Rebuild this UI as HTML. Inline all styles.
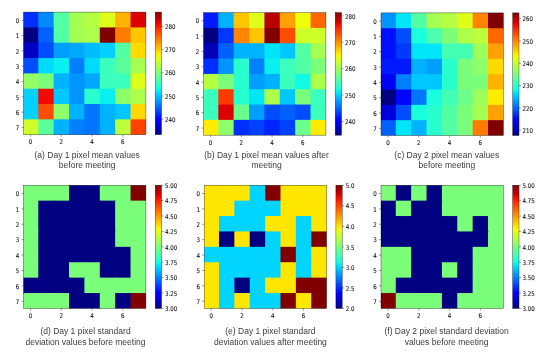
<!DOCTYPE html>
<html><head><meta charset="utf-8"><title>Figure</title>
<style>
html,body{margin:0;padding:0;background:#fff}
svg{display:block}
.t{font-family:"DejaVu Sans","Liberation Sans",sans-serif;font-size:5.5px;fill:#1a1a1a}
.c{font-family:"Liberation Sans",sans-serif;font-size:8.5px;fill:#3c3c3c}
.t{stroke:#1a1a1a;stroke-width:0.1px}
.tk{stroke:#000;stroke-width:0.5;stroke-opacity:0.8}
.bd{fill:none;stroke:#000;stroke-opacity:0.7;stroke-width:0.5}
</style></head><body>
<svg width="550" height="356" viewBox="0 0 550 356">
<rect width="550" height="356" fill="#fff"/>
<defs><linearGradient id="jet" x1="0" y1="1" x2="0" y2="0">
<stop offset="0.000" stop-color="#000080"/>
<stop offset="0.025" stop-color="#00009c"/>
<stop offset="0.050" stop-color="#0000b9"/>
<stop offset="0.075" stop-color="#0000d6"/>
<stop offset="0.100" stop-color="#0000f3"/>
<stop offset="0.125" stop-color="#0000ff"/>
<stop offset="0.150" stop-color="#0019ff"/>
<stop offset="0.175" stop-color="#0033ff"/>
<stop offset="0.200" stop-color="#004dff"/>
<stop offset="0.225" stop-color="#0066ff"/>
<stop offset="0.250" stop-color="#0080ff"/>
<stop offset="0.275" stop-color="#0099ff"/>
<stop offset="0.300" stop-color="#00b2ff"/>
<stop offset="0.325" stop-color="#00ccff"/>
<stop offset="0.350" stop-color="#00e5f7"/>
<stop offset="0.375" stop-color="#15ffe2"/>
<stop offset="0.400" stop-color="#29ffce"/>
<stop offset="0.425" stop-color="#3effb9"/>
<stop offset="0.450" stop-color="#52ffa5"/>
<stop offset="0.475" stop-color="#67ff90"/>
<stop offset="0.500" stop-color="#7bff7b"/>
<stop offset="0.525" stop-color="#90ff67"/>
<stop offset="0.550" stop-color="#a5ff52"/>
<stop offset="0.575" stop-color="#b9ff3e"/>
<stop offset="0.600" stop-color="#ceff29"/>
<stop offset="0.625" stop-color="#e2ff15"/>
<stop offset="0.650" stop-color="#f7f600"/>
<stop offset="0.675" stop-color="#ffde00"/>
<stop offset="0.700" stop-color="#ffc600"/>
<stop offset="0.725" stop-color="#ffaf00"/>
<stop offset="0.750" stop-color="#ff9700"/>
<stop offset="0.775" stop-color="#ff8000"/>
<stop offset="0.800" stop-color="#ff6800"/>
<stop offset="0.825" stop-color="#ff5000"/>
<stop offset="0.850" stop-color="#ff3900"/>
<stop offset="0.875" stop-color="#ff2100"/>
<stop offset="0.900" stop-color="#f30900"/>
<stop offset="0.925" stop-color="#d60000"/>
<stop offset="0.950" stop-color="#b90000"/>
<stop offset="0.975" stop-color="#9c0000"/>
<stop offset="1.000" stop-color="#800000"/>
</linearGradient></defs>
<rect x="23.50" y="12.10" width="15.77" height="16.32" fill="#002eff"/>
<rect x="38.27" y="12.10" width="16.38" height="16.32" fill="#008aff"/>
<rect x="53.65" y="12.10" width="16.38" height="16.32" fill="#52ffa5"/>
<rect x="69.03" y="12.10" width="16.38" height="16.32" fill="#a5ff52"/>
<rect x="84.40" y="12.10" width="16.38" height="16.32" fill="#b5ff42"/>
<rect x="99.78" y="12.10" width="16.38" height="16.32" fill="#deff19"/>
<rect x="115.15" y="12.10" width="16.38" height="16.32" fill="#ffb300"/>
<rect x="130.53" y="12.10" width="15.38" height="16.32" fill="#dc0000"/>
<rect x="23.50" y="27.42" width="15.77" height="16.32" fill="#000080"/>
<rect x="38.27" y="27.42" width="16.38" height="16.32" fill="#0061ff"/>
<rect x="53.65" y="27.42" width="16.38" height="16.32" fill="#52ffa5"/>
<rect x="69.03" y="27.42" width="16.38" height="16.32" fill="#a5ff52"/>
<rect x="84.40" y="27.42" width="16.38" height="16.32" fill="#adff4a"/>
<rect x="99.78" y="27.42" width="16.38" height="16.32" fill="#800000"/>
<rect x="115.15" y="27.42" width="16.38" height="16.32" fill="#ff7b00"/>
<rect x="130.53" y="27.42" width="15.38" height="16.32" fill="#ffc600"/>
<rect x="23.50" y="42.75" width="15.77" height="16.32" fill="#0000c5"/>
<rect x="38.27" y="42.75" width="16.38" height="16.32" fill="#004dff"/>
<rect x="53.65" y="42.75" width="16.38" height="16.32" fill="#009eff"/>
<rect x="69.03" y="42.75" width="16.38" height="16.32" fill="#00a8ff"/>
<rect x="84.40" y="42.75" width="16.38" height="16.32" fill="#00bdff"/>
<rect x="99.78" y="42.75" width="16.38" height="16.32" fill="#00d1ff"/>
<rect x="115.15" y="42.75" width="16.38" height="16.32" fill="#52ffa5"/>
<rect x="130.53" y="42.75" width="15.38" height="16.32" fill="#ffd900"/>
<rect x="23.50" y="58.07" width="15.77" height="16.32" fill="#004dff"/>
<rect x="38.27" y="58.07" width="16.38" height="16.32" fill="#00dbff"/>
<rect x="53.65" y="58.07" width="16.38" height="16.32" fill="#08f0ef"/>
<rect x="69.03" y="58.07" width="16.38" height="16.32" fill="#0080ff"/>
<rect x="84.40" y="58.07" width="16.38" height="16.32" fill="#00dbff"/>
<rect x="99.78" y="58.07" width="16.38" height="16.32" fill="#3affbd"/>
<rect x="115.15" y="58.07" width="16.38" height="16.32" fill="#5aff9c"/>
<rect x="130.53" y="58.07" width="15.38" height="16.32" fill="#a5ff52"/>
<rect x="23.50" y="73.40" width="15.77" height="16.32" fill="#94ff63"/>
<rect x="38.27" y="73.40" width="16.38" height="16.32" fill="#7bff7b"/>
<rect x="53.65" y="73.40" width="16.38" height="16.32" fill="#00b2ff"/>
<rect x="69.03" y="73.40" width="16.38" height="16.32" fill="#0094ff"/>
<rect x="84.40" y="73.40" width="16.38" height="16.32" fill="#00a8ff"/>
<rect x="99.78" y="73.40" width="16.38" height="16.32" fill="#3affbd"/>
<rect x="115.15" y="73.40" width="16.38" height="16.32" fill="#3affbd"/>
<rect x="130.53" y="73.40" width="15.38" height="16.32" fill="#deff19"/>
<rect x="23.50" y="88.72" width="15.77" height="16.32" fill="#00d1ff"/>
<rect x="38.27" y="88.72" width="16.38" height="16.32" fill="#f30900"/>
<rect x="53.65" y="88.72" width="16.38" height="16.32" fill="#00c7ff"/>
<rect x="69.03" y="88.72" width="16.38" height="16.32" fill="#0094ff"/>
<rect x="84.40" y="88.72" width="16.38" height="16.32" fill="#29ffce"/>
<rect x="99.78" y="88.72" width="16.38" height="16.32" fill="#08f0ef"/>
<rect x="115.15" y="88.72" width="16.38" height="16.32" fill="#8cff6b"/>
<rect x="130.53" y="88.72" width="15.38" height="16.32" fill="#adff4a"/>
<rect x="23.50" y="104.05" width="15.77" height="16.32" fill="#00d1ff"/>
<rect x="38.27" y="104.05" width="16.38" height="16.32" fill="#ff4c00"/>
<rect x="53.65" y="104.05" width="16.38" height="16.32" fill="#8cff6b"/>
<rect x="69.03" y="104.05" width="16.38" height="16.32" fill="#00b2ff"/>
<rect x="84.40" y="104.05" width="16.38" height="16.32" fill="#0075ff"/>
<rect x="99.78" y="104.05" width="16.38" height="16.32" fill="#00b2ff"/>
<rect x="115.15" y="104.05" width="16.38" height="16.32" fill="#00c7ff"/>
<rect x="130.53" y="104.05" width="15.38" height="16.32" fill="#ffd900"/>
<rect x="23.50" y="119.37" width="15.77" height="15.32" fill="#ceff29"/>
<rect x="38.27" y="119.37" width="16.38" height="15.32" fill="#5aff9c"/>
<rect x="53.65" y="119.37" width="16.38" height="15.32" fill="#00b2ff"/>
<rect x="69.03" y="119.37" width="16.38" height="15.32" fill="#0080ff"/>
<rect x="84.40" y="119.37" width="16.38" height="15.32" fill="#0075ff"/>
<rect x="99.78" y="119.37" width="16.38" height="15.32" fill="#00b2ff"/>
<rect x="115.15" y="119.37" width="16.38" height="15.32" fill="#bdff3a"/>
<rect x="130.53" y="119.37" width="15.38" height="15.32" fill="#ff4200"/>
<rect x="23.50" y="12.10" width="122.40" height="122.60" class="bd"/>
<line x1="21.50" y1="20.26" x2="23.50" y2="20.26" class="tk"/>
<text transform="translate(19.30 22.92) scale(1 1.18)" text-anchor="end" class="t">0</text>
<line x1="21.50" y1="35.59" x2="23.50" y2="35.59" class="tk"/>
<text transform="translate(19.30 38.25) scale(1 1.18)" text-anchor="end" class="t">1</text>
<line x1="21.50" y1="50.91" x2="23.50" y2="50.91" class="tk"/>
<text transform="translate(19.30 53.57) scale(1 1.18)" text-anchor="end" class="t">2</text>
<line x1="21.50" y1="66.24" x2="23.50" y2="66.24" class="tk"/>
<text transform="translate(19.30 68.90) scale(1 1.18)" text-anchor="end" class="t">3</text>
<line x1="21.50" y1="81.56" x2="23.50" y2="81.56" class="tk"/>
<text transform="translate(19.30 84.22) scale(1 1.18)" text-anchor="end" class="t">4</text>
<line x1="21.50" y1="96.89" x2="23.50" y2="96.89" class="tk"/>
<text transform="translate(19.30 99.55) scale(1 1.18)" text-anchor="end" class="t">5</text>
<line x1="21.50" y1="112.21" x2="23.50" y2="112.21" class="tk"/>
<text transform="translate(19.30 114.87) scale(1 1.18)" text-anchor="end" class="t">6</text>
<line x1="21.50" y1="127.54" x2="23.50" y2="127.54" class="tk"/>
<text transform="translate(19.30 130.20) scale(1 1.18)" text-anchor="end" class="t">7</text>
<line x1="30.59" y1="134.70" x2="30.59" y2="136.70" class="tk"/>
<text transform="translate(30.59 144.00) scale(1 1.18)" text-anchor="middle" class="t">0</text>
<line x1="61.34" y1="134.70" x2="61.34" y2="136.70" class="tk"/>
<text transform="translate(61.34 144.00) scale(1 1.18)" text-anchor="middle" class="t">2</text>
<line x1="92.09" y1="134.70" x2="92.09" y2="136.70" class="tk"/>
<text transform="translate(92.09 144.00) scale(1 1.18)" text-anchor="middle" class="t">4</text>
<line x1="122.84" y1="134.70" x2="122.84" y2="136.70" class="tk"/>
<text transform="translate(122.84 144.00) scale(1 1.18)" text-anchor="middle" class="t">6</text>
<rect x="155.20" y="12.10" width="6.30" height="122.60" fill="url(#jet)"/>
<rect x="155.20" y="12.10" width="6.30" height="122.60" class="bd"/>
<line x1="161.50" y1="119.17" x2="163.50" y2="119.17" class="tk"/>
<text transform="translate(165.10 121.83) scale(1 1.18)" class="t">240</text>
<line x1="161.50" y1="96.00" x2="163.50" y2="96.00" class="tk"/>
<text transform="translate(165.10 98.66) scale(1 1.18)" class="t">250</text>
<line x1="161.50" y1="72.82" x2="163.50" y2="72.82" class="tk"/>
<text transform="translate(165.10 75.48) scale(1 1.18)" class="t">260</text>
<line x1="161.50" y1="49.64" x2="163.50" y2="49.64" class="tk"/>
<text transform="translate(165.10 52.30) scale(1 1.18)" class="t">270</text>
<line x1="161.50" y1="26.47" x2="163.50" y2="26.47" class="tk"/>
<text transform="translate(165.10 29.13) scale(1 1.18)" class="t">280</text>
<text x="87.20" y="157.50" text-anchor="middle" class="c">(a) Day 1 pixel mean values</text>
<text x="87.20" y="168.00" text-anchor="middle" class="c">before meeting</text>
<rect x="203.50" y="12.60" width="15.78" height="16.32" fill="#0019ff"/>
<rect x="218.28" y="12.60" width="16.38" height="16.32" fill="#00b2ff"/>
<rect x="233.65" y="12.60" width="16.38" height="16.32" fill="#ffc600"/>
<rect x="249.03" y="12.60" width="16.37" height="16.32" fill="#deff19"/>
<rect x="264.40" y="12.60" width="16.38" height="16.32" fill="#b90000"/>
<rect x="279.77" y="12.60" width="16.38" height="16.32" fill="#ffa100"/>
<rect x="295.15" y="12.60" width="16.38" height="16.32" fill="#efff08"/>
<rect x="310.52" y="12.60" width="15.38" height="16.32" fill="#ff6800"/>
<rect x="203.50" y="27.92" width="15.78" height="16.32" fill="#000080"/>
<rect x="218.28" y="27.92" width="16.38" height="16.32" fill="#0038ff"/>
<rect x="233.65" y="27.92" width="16.38" height="16.32" fill="#ff8400"/>
<rect x="249.03" y="27.92" width="16.37" height="16.32" fill="#ffc600"/>
<rect x="264.40" y="27.92" width="16.38" height="16.32" fill="#800000"/>
<rect x="279.77" y="27.92" width="16.38" height="16.32" fill="#ff4c00"/>
<rect x="295.15" y="27.92" width="16.38" height="16.32" fill="#ceff29"/>
<rect x="310.52" y="27.92" width="15.38" height="16.32" fill="#ceff29"/>
<rect x="203.50" y="43.25" width="15.78" height="16.32" fill="#0000b9"/>
<rect x="218.28" y="43.25" width="16.38" height="16.32" fill="#0061ff"/>
<rect x="233.65" y="43.25" width="16.38" height="16.32" fill="#00b2ff"/>
<rect x="249.03" y="43.25" width="16.37" height="16.32" fill="#00b2ff"/>
<rect x="264.40" y="43.25" width="16.38" height="16.32" fill="#00e5f7"/>
<rect x="279.77" y="43.25" width="16.38" height="16.32" fill="#00c7ff"/>
<rect x="295.15" y="43.25" width="16.38" height="16.32" fill="#52ffa5"/>
<rect x="310.52" y="43.25" width="15.38" height="16.32" fill="#a5ff52"/>
<rect x="203.50" y="58.57" width="15.78" height="16.32" fill="#002eff"/>
<rect x="218.28" y="58.57" width="16.38" height="16.32" fill="#0094ff"/>
<rect x="233.65" y="58.57" width="16.38" height="16.32" fill="#29ffce"/>
<rect x="249.03" y="58.57" width="16.37" height="16.32" fill="#0080ff"/>
<rect x="264.40" y="58.57" width="16.38" height="16.32" fill="#08f0ef"/>
<rect x="279.77" y="58.57" width="16.38" height="16.32" fill="#3affbd"/>
<rect x="295.15" y="58.57" width="16.38" height="16.32" fill="#52ffa5"/>
<rect x="310.52" y="58.57" width="15.38" height="16.32" fill="#7bff7b"/>
<rect x="203.50" y="73.90" width="15.78" height="16.32" fill="#b5ff42"/>
<rect x="218.28" y="73.90" width="16.38" height="16.32" fill="#7bff7b"/>
<rect x="233.65" y="73.90" width="16.38" height="16.32" fill="#29ffce"/>
<rect x="249.03" y="73.90" width="16.37" height="16.32" fill="#009eff"/>
<rect x="264.40" y="73.90" width="16.38" height="16.32" fill="#00b2ff"/>
<rect x="279.77" y="73.90" width="16.38" height="16.32" fill="#3affbd"/>
<rect x="295.15" y="73.90" width="16.38" height="16.32" fill="#10fae6"/>
<rect x="310.52" y="73.90" width="15.38" height="16.32" fill="#adff4a"/>
<rect x="203.50" y="89.22" width="15.78" height="16.32" fill="#3affbd"/>
<rect x="218.28" y="89.22" width="16.38" height="16.32" fill="#ff3900"/>
<rect x="233.65" y="89.22" width="16.38" height="16.32" fill="#29ffce"/>
<rect x="249.03" y="89.22" width="16.37" height="16.32" fill="#00e5f7"/>
<rect x="264.40" y="89.22" width="16.38" height="16.32" fill="#adff4a"/>
<rect x="279.77" y="89.22" width="16.38" height="16.32" fill="#00c7ff"/>
<rect x="295.15" y="89.22" width="16.38" height="16.32" fill="#7bff7b"/>
<rect x="310.52" y="89.22" width="15.38" height="16.32" fill="#3affbd"/>
<rect x="203.50" y="104.55" width="15.78" height="16.32" fill="#3affbd"/>
<rect x="218.28" y="104.55" width="16.38" height="16.32" fill="#dc0000"/>
<rect x="233.65" y="104.55" width="16.38" height="16.32" fill="#6bff8c"/>
<rect x="249.03" y="104.55" width="16.37" height="16.32" fill="#009eff"/>
<rect x="264.40" y="104.55" width="16.38" height="16.32" fill="#004dff"/>
<rect x="279.77" y="104.55" width="16.38" height="16.32" fill="#0061ff"/>
<rect x="295.15" y="104.55" width="16.38" height="16.32" fill="#004dff"/>
<rect x="310.52" y="104.55" width="15.38" height="16.32" fill="#3affbd"/>
<rect x="203.50" y="119.87" width="15.78" height="15.32" fill="#ffec00"/>
<rect x="218.28" y="119.87" width="16.38" height="15.32" fill="#8cff6b"/>
<rect x="233.65" y="119.87" width="16.38" height="15.32" fill="#002eff"/>
<rect x="249.03" y="119.87" width="16.37" height="15.32" fill="#0042ff"/>
<rect x="264.40" y="119.87" width="16.38" height="15.32" fill="#0024ff"/>
<rect x="279.77" y="119.87" width="16.38" height="15.32" fill="#0042ff"/>
<rect x="295.15" y="119.87" width="16.38" height="15.32" fill="#6bff8c"/>
<rect x="310.52" y="119.87" width="15.38" height="15.32" fill="#ffec00"/>
<rect x="203.50" y="12.60" width="122.40" height="122.60" class="bd"/>
<line x1="201.50" y1="20.76" x2="203.50" y2="20.76" class="tk"/>
<text transform="translate(199.30 23.42) scale(1 1.18)" text-anchor="end" class="t">0</text>
<line x1="201.50" y1="36.09" x2="203.50" y2="36.09" class="tk"/>
<text transform="translate(199.30 38.75) scale(1 1.18)" text-anchor="end" class="t">1</text>
<line x1="201.50" y1="51.41" x2="203.50" y2="51.41" class="tk"/>
<text transform="translate(199.30 54.07) scale(1 1.18)" text-anchor="end" class="t">2</text>
<line x1="201.50" y1="66.74" x2="203.50" y2="66.74" class="tk"/>
<text transform="translate(199.30 69.40) scale(1 1.18)" text-anchor="end" class="t">3</text>
<line x1="201.50" y1="82.06" x2="203.50" y2="82.06" class="tk"/>
<text transform="translate(199.30 84.72) scale(1 1.18)" text-anchor="end" class="t">4</text>
<line x1="201.50" y1="97.39" x2="203.50" y2="97.39" class="tk"/>
<text transform="translate(199.30 100.05) scale(1 1.18)" text-anchor="end" class="t">5</text>
<line x1="201.50" y1="112.71" x2="203.50" y2="112.71" class="tk"/>
<text transform="translate(199.30 115.37) scale(1 1.18)" text-anchor="end" class="t">6</text>
<line x1="201.50" y1="128.04" x2="203.50" y2="128.04" class="tk"/>
<text transform="translate(199.30 130.70) scale(1 1.18)" text-anchor="end" class="t">7</text>
<line x1="210.59" y1="135.20" x2="210.59" y2="137.20" class="tk"/>
<text transform="translate(210.59 144.50) scale(1 1.18)" text-anchor="middle" class="t">0</text>
<line x1="241.34" y1="135.20" x2="241.34" y2="137.20" class="tk"/>
<text transform="translate(241.34 144.50) scale(1 1.18)" text-anchor="middle" class="t">2</text>
<line x1="272.09" y1="135.20" x2="272.09" y2="137.20" class="tk"/>
<text transform="translate(272.09 144.50) scale(1 1.18)" text-anchor="middle" class="t">4</text>
<line x1="302.84" y1="135.20" x2="302.84" y2="137.20" class="tk"/>
<text transform="translate(302.84 144.50) scale(1 1.18)" text-anchor="middle" class="t">6</text>
<rect x="335.20" y="12.60" width="6.30" height="122.60" fill="url(#jet)"/>
<rect x="335.20" y="12.60" width="6.30" height="122.60" class="bd"/>
<line x1="341.50" y1="121.36" x2="343.50" y2="121.36" class="tk"/>
<text transform="translate(345.10 124.02) scale(1 1.18)" class="t">240</text>
<line x1="341.50" y1="94.99" x2="343.50" y2="94.99" class="tk"/>
<text transform="translate(345.10 97.65) scale(1 1.18)" class="t">250</text>
<line x1="341.50" y1="68.63" x2="343.50" y2="68.63" class="tk"/>
<text transform="translate(345.10 71.29) scale(1 1.18)" class="t">260</text>
<line x1="341.50" y1="42.26" x2="343.50" y2="42.26" class="tk"/>
<text transform="translate(345.10 44.92) scale(1 1.18)" class="t">270</text>
<line x1="341.50" y1="15.90" x2="343.50" y2="15.90" class="tk"/>
<text transform="translate(345.10 18.56) scale(1 1.18)" class="t">280</text>
<text x="266.50" y="157.50" text-anchor="middle" class="c">(b) Day 1 pixel mean values after</text>
<text x="266.50" y="168.00" text-anchor="middle" class="c">meeting</text>
<rect x="381.00" y="12.90" width="15.77" height="16.32" fill="#0094ff"/>
<rect x="395.77" y="12.90" width="16.38" height="16.32" fill="#00e5f7"/>
<rect x="411.15" y="12.90" width="16.38" height="16.32" fill="#52ffa5"/>
<rect x="426.52" y="12.90" width="16.38" height="16.32" fill="#a5ff52"/>
<rect x="441.90" y="12.90" width="16.38" height="16.32" fill="#b5ff42"/>
<rect x="457.27" y="12.90" width="16.38" height="16.32" fill="#deff19"/>
<rect x="472.65" y="12.90" width="16.38" height="16.32" fill="#ff8400"/>
<rect x="488.02" y="12.90" width="15.38" height="16.32" fill="#800000"/>
<rect x="381.00" y="28.23" width="15.77" height="16.32" fill="#000fff"/>
<rect x="395.77" y="28.23" width="16.38" height="16.32" fill="#004dff"/>
<rect x="411.15" y="28.23" width="16.38" height="16.32" fill="#19ffde"/>
<rect x="426.52" y="28.23" width="16.38" height="16.32" fill="#4affad"/>
<rect x="441.90" y="28.23" width="16.38" height="16.32" fill="#7bff7b"/>
<rect x="457.27" y="28.23" width="16.38" height="16.32" fill="#adff4a"/>
<rect x="472.65" y="28.23" width="16.38" height="16.32" fill="#bdff3a"/>
<rect x="488.02" y="28.23" width="15.38" height="16.32" fill="#ff6800"/>
<rect x="381.00" y="43.55" width="15.77" height="16.32" fill="#000fff"/>
<rect x="395.77" y="43.55" width="16.38" height="16.32" fill="#0038ff"/>
<rect x="411.15" y="43.55" width="16.38" height="16.32" fill="#00e5f7"/>
<rect x="426.52" y="43.55" width="16.38" height="16.32" fill="#00e5f7"/>
<rect x="441.90" y="43.55" width="16.38" height="16.32" fill="#42ffb5"/>
<rect x="457.27" y="43.55" width="16.38" height="16.32" fill="#42ffb5"/>
<rect x="472.65" y="43.55" width="16.38" height="16.32" fill="#9cff5a"/>
<rect x="488.02" y="43.55" width="15.38" height="16.32" fill="#ffa100"/>
<rect x="381.00" y="58.87" width="15.77" height="16.32" fill="#0019ff"/>
<rect x="395.77" y="58.87" width="16.38" height="16.32" fill="#0019ff"/>
<rect x="411.15" y="58.87" width="16.38" height="16.32" fill="#00b2ff"/>
<rect x="426.52" y="58.87" width="16.38" height="16.32" fill="#009eff"/>
<rect x="441.90" y="58.87" width="16.38" height="16.32" fill="#29ffce"/>
<rect x="457.27" y="58.87" width="16.38" height="16.32" fill="#7bff7b"/>
<rect x="472.65" y="58.87" width="16.38" height="16.32" fill="#8cff6b"/>
<rect x="488.02" y="58.87" width="15.38" height="16.32" fill="#ffd900"/>
<rect x="381.00" y="74.20" width="15.77" height="16.32" fill="#0000f3"/>
<rect x="395.77" y="74.20" width="16.38" height="16.32" fill="#0080ff"/>
<rect x="411.15" y="74.20" width="16.38" height="16.32" fill="#00c7ff"/>
<rect x="426.52" y="74.20" width="16.38" height="16.32" fill="#00c7ff"/>
<rect x="441.90" y="74.20" width="16.38" height="16.32" fill="#29ffce"/>
<rect x="457.27" y="74.20" width="16.38" height="16.32" fill="#7bff7b"/>
<rect x="472.65" y="74.20" width="16.38" height="16.32" fill="#7bff7b"/>
<rect x="488.02" y="74.20" width="15.38" height="16.32" fill="#ffb300"/>
<rect x="381.00" y="89.53" width="15.77" height="16.32" fill="#000080"/>
<rect x="395.77" y="89.53" width="16.38" height="16.32" fill="#0005ff"/>
<rect x="411.15" y="89.53" width="16.38" height="16.32" fill="#0075ff"/>
<rect x="426.52" y="89.53" width="16.38" height="16.32" fill="#19ffde"/>
<rect x="441.90" y="89.53" width="16.38" height="16.32" fill="#42ffb5"/>
<rect x="457.27" y="89.53" width="16.38" height="16.32" fill="#6bff8c"/>
<rect x="472.65" y="89.53" width="16.38" height="16.32" fill="#9cff5a"/>
<rect x="488.02" y="89.53" width="15.38" height="16.32" fill="#ffec00"/>
<rect x="381.00" y="104.85" width="15.77" height="16.32" fill="#0000dc"/>
<rect x="395.77" y="104.85" width="16.38" height="16.32" fill="#004dff"/>
<rect x="411.15" y="104.85" width="16.38" height="16.32" fill="#19ffde"/>
<rect x="426.52" y="104.85" width="16.38" height="16.32" fill="#29ffce"/>
<rect x="441.90" y="104.85" width="16.38" height="16.32" fill="#52ffa5"/>
<rect x="457.27" y="104.85" width="16.38" height="16.32" fill="#7bff7b"/>
<rect x="472.65" y="104.85" width="16.38" height="16.32" fill="#a5ff52"/>
<rect x="488.02" y="104.85" width="15.38" height="16.32" fill="#ffa100"/>
<rect x="381.00" y="120.17" width="15.77" height="15.32" fill="#0061ff"/>
<rect x="395.77" y="120.17" width="16.38" height="15.32" fill="#00e5f7"/>
<rect x="411.15" y="120.17" width="16.38" height="15.32" fill="#00b2ff"/>
<rect x="426.52" y="120.17" width="16.38" height="15.32" fill="#29ffce"/>
<rect x="441.90" y="120.17" width="16.38" height="15.32" fill="#52ffa5"/>
<rect x="457.27" y="120.17" width="16.38" height="15.32" fill="#7bff7b"/>
<rect x="472.65" y="120.17" width="16.38" height="15.32" fill="#ff7b00"/>
<rect x="488.02" y="120.17" width="15.38" height="15.32" fill="#800000"/>
<rect x="381.00" y="12.90" width="122.40" height="122.60" class="bd"/>
<line x1="379.00" y1="21.06" x2="381.00" y2="21.06" class="tk"/>
<text transform="translate(376.80 23.72) scale(1 1.18)" text-anchor="end" class="t">0</text>
<line x1="379.00" y1="36.39" x2="381.00" y2="36.39" class="tk"/>
<text transform="translate(376.80 39.05) scale(1 1.18)" text-anchor="end" class="t">1</text>
<line x1="379.00" y1="51.71" x2="381.00" y2="51.71" class="tk"/>
<text transform="translate(376.80 54.37) scale(1 1.18)" text-anchor="end" class="t">2</text>
<line x1="379.00" y1="67.04" x2="381.00" y2="67.04" class="tk"/>
<text transform="translate(376.80 69.70) scale(1 1.18)" text-anchor="end" class="t">3</text>
<line x1="379.00" y1="82.36" x2="381.00" y2="82.36" class="tk"/>
<text transform="translate(376.80 85.02) scale(1 1.18)" text-anchor="end" class="t">4</text>
<line x1="379.00" y1="97.69" x2="381.00" y2="97.69" class="tk"/>
<text transform="translate(376.80 100.35) scale(1 1.18)" text-anchor="end" class="t">5</text>
<line x1="379.00" y1="113.01" x2="381.00" y2="113.01" class="tk"/>
<text transform="translate(376.80 115.67) scale(1 1.18)" text-anchor="end" class="t">6</text>
<line x1="379.00" y1="128.34" x2="381.00" y2="128.34" class="tk"/>
<text transform="translate(376.80 131.00) scale(1 1.18)" text-anchor="end" class="t">7</text>
<line x1="388.09" y1="135.50" x2="388.09" y2="137.50" class="tk"/>
<text transform="translate(388.09 144.80) scale(1 1.18)" text-anchor="middle" class="t">0</text>
<line x1="418.84" y1="135.50" x2="418.84" y2="137.50" class="tk"/>
<text transform="translate(418.84 144.80) scale(1 1.18)" text-anchor="middle" class="t">2</text>
<line x1="449.59" y1="135.50" x2="449.59" y2="137.50" class="tk"/>
<text transform="translate(449.59 144.80) scale(1 1.18)" text-anchor="middle" class="t">4</text>
<line x1="480.34" y1="135.50" x2="480.34" y2="137.50" class="tk"/>
<text transform="translate(480.34 144.80) scale(1 1.18)" text-anchor="middle" class="t">6</text>
<rect x="512.70" y="12.90" width="6.30" height="122.60" fill="url(#jet)"/>
<rect x="512.70" y="12.90" width="6.30" height="122.60" class="bd"/>
<line x1="519.00" y1="130.15" x2="521.00" y2="130.15" class="tk"/>
<text transform="translate(522.60 132.81) scale(1 1.18)" class="t">210</text>
<line x1="519.00" y1="107.86" x2="521.00" y2="107.86" class="tk"/>
<text transform="translate(522.60 110.52) scale(1 1.18)" class="t">220</text>
<line x1="519.00" y1="85.57" x2="521.00" y2="85.57" class="tk"/>
<text transform="translate(522.60 88.23) scale(1 1.18)" class="t">230</text>
<line x1="519.00" y1="63.28" x2="521.00" y2="63.28" class="tk"/>
<text transform="translate(522.60 65.94) scale(1 1.18)" class="t">240</text>
<line x1="519.00" y1="40.99" x2="521.00" y2="40.99" class="tk"/>
<text transform="translate(522.60 43.65) scale(1 1.18)" class="t">250</text>
<line x1="519.00" y1="18.70" x2="521.00" y2="18.70" class="tk"/>
<text transform="translate(522.60 21.36) scale(1 1.18)" class="t">260</text>
<text x="446.80" y="157.80" text-anchor="middle" class="c">(c) Day 2 pixel mean values</text>
<text x="446.80" y="168.30" text-anchor="middle" class="c">before meeting</text>
<rect x="23.50" y="185.25" width="15.77" height="16.40" fill="#7bff7b"/>
<rect x="38.27" y="185.25" width="16.38" height="16.40" fill="#7bff7b"/>
<rect x="53.65" y="185.25" width="16.38" height="16.40" fill="#7bff7b"/>
<rect x="69.03" y="185.25" width="16.38" height="16.40" fill="#000080"/>
<rect x="84.40" y="185.25" width="16.38" height="16.40" fill="#000080"/>
<rect x="99.78" y="185.25" width="16.38" height="16.40" fill="#7bff7b"/>
<rect x="115.15" y="185.25" width="16.38" height="16.40" fill="#7bff7b"/>
<rect x="130.53" y="185.25" width="15.38" height="16.40" fill="#800000"/>
<rect x="23.50" y="200.65" width="15.77" height="16.40" fill="#7bff7b"/>
<rect x="38.27" y="200.65" width="16.38" height="16.40" fill="#000080"/>
<rect x="53.65" y="200.65" width="16.38" height="16.40" fill="#000080"/>
<rect x="69.03" y="200.65" width="16.38" height="16.40" fill="#000080"/>
<rect x="84.40" y="200.65" width="16.38" height="16.40" fill="#000080"/>
<rect x="99.78" y="200.65" width="16.38" height="16.40" fill="#000080"/>
<rect x="115.15" y="200.65" width="16.38" height="16.40" fill="#7bff7b"/>
<rect x="130.53" y="200.65" width="15.38" height="16.40" fill="#7bff7b"/>
<rect x="23.50" y="216.05" width="15.77" height="16.40" fill="#7bff7b"/>
<rect x="38.27" y="216.05" width="16.38" height="16.40" fill="#000080"/>
<rect x="53.65" y="216.05" width="16.38" height="16.40" fill="#000080"/>
<rect x="69.03" y="216.05" width="16.38" height="16.40" fill="#000080"/>
<rect x="84.40" y="216.05" width="16.38" height="16.40" fill="#000080"/>
<rect x="99.78" y="216.05" width="16.38" height="16.40" fill="#000080"/>
<rect x="115.15" y="216.05" width="16.38" height="16.40" fill="#7bff7b"/>
<rect x="130.53" y="216.05" width="15.38" height="16.40" fill="#7bff7b"/>
<rect x="23.50" y="231.45" width="15.77" height="16.40" fill="#7bff7b"/>
<rect x="38.27" y="231.45" width="16.38" height="16.40" fill="#000080"/>
<rect x="53.65" y="231.45" width="16.38" height="16.40" fill="#000080"/>
<rect x="69.03" y="231.45" width="16.38" height="16.40" fill="#000080"/>
<rect x="84.40" y="231.45" width="16.38" height="16.40" fill="#000080"/>
<rect x="99.78" y="231.45" width="16.38" height="16.40" fill="#000080"/>
<rect x="115.15" y="231.45" width="16.38" height="16.40" fill="#7bff7b"/>
<rect x="130.53" y="231.45" width="15.38" height="16.40" fill="#7bff7b"/>
<rect x="23.50" y="246.85" width="15.77" height="16.40" fill="#7bff7b"/>
<rect x="38.27" y="246.85" width="16.38" height="16.40" fill="#000080"/>
<rect x="53.65" y="246.85" width="16.38" height="16.40" fill="#000080"/>
<rect x="69.03" y="246.85" width="16.38" height="16.40" fill="#000080"/>
<rect x="84.40" y="246.85" width="16.38" height="16.40" fill="#000080"/>
<rect x="99.78" y="246.85" width="16.38" height="16.40" fill="#000080"/>
<rect x="115.15" y="246.85" width="16.38" height="16.40" fill="#000080"/>
<rect x="130.53" y="246.85" width="15.38" height="16.40" fill="#7bff7b"/>
<rect x="23.50" y="262.25" width="15.77" height="16.40" fill="#7bff7b"/>
<rect x="38.27" y="262.25" width="16.38" height="16.40" fill="#000080"/>
<rect x="53.65" y="262.25" width="16.38" height="16.40" fill="#000080"/>
<rect x="69.03" y="262.25" width="16.38" height="16.40" fill="#7bff7b"/>
<rect x="84.40" y="262.25" width="16.38" height="16.40" fill="#7bff7b"/>
<rect x="99.78" y="262.25" width="16.38" height="16.40" fill="#000080"/>
<rect x="115.15" y="262.25" width="16.38" height="16.40" fill="#000080"/>
<rect x="130.53" y="262.25" width="15.38" height="16.40" fill="#7bff7b"/>
<rect x="23.50" y="277.65" width="15.77" height="16.40" fill="#000080"/>
<rect x="38.27" y="277.65" width="16.38" height="16.40" fill="#000080"/>
<rect x="53.65" y="277.65" width="16.38" height="16.40" fill="#000080"/>
<rect x="69.03" y="277.65" width="16.38" height="16.40" fill="#000080"/>
<rect x="84.40" y="277.65" width="16.38" height="16.40" fill="#7bff7b"/>
<rect x="99.78" y="277.65" width="16.38" height="16.40" fill="#7bff7b"/>
<rect x="115.15" y="277.65" width="16.38" height="16.40" fill="#7bff7b"/>
<rect x="130.53" y="277.65" width="15.38" height="16.40" fill="#7bff7b"/>
<rect x="23.50" y="293.05" width="15.77" height="15.40" fill="#7bff7b"/>
<rect x="38.27" y="293.05" width="16.38" height="15.40" fill="#7bff7b"/>
<rect x="53.65" y="293.05" width="16.38" height="15.40" fill="#7bff7b"/>
<rect x="69.03" y="293.05" width="16.38" height="15.40" fill="#000080"/>
<rect x="84.40" y="293.05" width="16.38" height="15.40" fill="#000080"/>
<rect x="99.78" y="293.05" width="16.38" height="15.40" fill="#7bff7b"/>
<rect x="115.15" y="293.05" width="16.38" height="15.40" fill="#000080"/>
<rect x="130.53" y="293.05" width="15.38" height="15.40" fill="#800000"/>
<rect x="23.50" y="185.25" width="122.40" height="123.20" class="bd"/>
<line x1="21.50" y1="193.45" x2="23.50" y2="193.45" class="tk"/>
<text transform="translate(19.30 196.11) scale(1 1.18)" text-anchor="end" class="t">0</text>
<line x1="21.50" y1="208.85" x2="23.50" y2="208.85" class="tk"/>
<text transform="translate(19.30 211.51) scale(1 1.18)" text-anchor="end" class="t">1</text>
<line x1="21.50" y1="224.25" x2="23.50" y2="224.25" class="tk"/>
<text transform="translate(19.30 226.91) scale(1 1.18)" text-anchor="end" class="t">2</text>
<line x1="21.50" y1="239.65" x2="23.50" y2="239.65" class="tk"/>
<text transform="translate(19.30 242.31) scale(1 1.18)" text-anchor="end" class="t">3</text>
<line x1="21.50" y1="255.05" x2="23.50" y2="255.05" class="tk"/>
<text transform="translate(19.30 257.71) scale(1 1.18)" text-anchor="end" class="t">4</text>
<line x1="21.50" y1="270.45" x2="23.50" y2="270.45" class="tk"/>
<text transform="translate(19.30 273.11) scale(1 1.18)" text-anchor="end" class="t">5</text>
<line x1="21.50" y1="285.85" x2="23.50" y2="285.85" class="tk"/>
<text transform="translate(19.30 288.51) scale(1 1.18)" text-anchor="end" class="t">6</text>
<line x1="21.50" y1="301.25" x2="23.50" y2="301.25" class="tk"/>
<text transform="translate(19.30 303.91) scale(1 1.18)" text-anchor="end" class="t">7</text>
<line x1="30.59" y1="308.45" x2="30.59" y2="310.45" class="tk"/>
<text transform="translate(30.59 317.75) scale(1 1.18)" text-anchor="middle" class="t">0</text>
<line x1="61.34" y1="308.45" x2="61.34" y2="310.45" class="tk"/>
<text transform="translate(61.34 317.75) scale(1 1.18)" text-anchor="middle" class="t">2</text>
<line x1="92.09" y1="308.45" x2="92.09" y2="310.45" class="tk"/>
<text transform="translate(92.09 317.75) scale(1 1.18)" text-anchor="middle" class="t">4</text>
<line x1="122.84" y1="308.45" x2="122.84" y2="310.45" class="tk"/>
<text transform="translate(122.84 317.75) scale(1 1.18)" text-anchor="middle" class="t">6</text>
<rect x="155.20" y="185.25" width="6.30" height="123.20" fill="url(#jet)"/>
<rect x="155.20" y="185.25" width="6.30" height="123.20" class="bd"/>
<line x1="161.50" y1="308.45" x2="163.50" y2="308.45" class="tk"/>
<text transform="translate(165.10 311.11) scale(1 1.18)" class="t">3.00</text>
<line x1="161.50" y1="293.05" x2="163.50" y2="293.05" class="tk"/>
<text transform="translate(165.10 295.71) scale(1 1.18)" class="t">3.25</text>
<line x1="161.50" y1="277.65" x2="163.50" y2="277.65" class="tk"/>
<text transform="translate(165.10 280.31) scale(1 1.18)" class="t">3.50</text>
<line x1="161.50" y1="262.25" x2="163.50" y2="262.25" class="tk"/>
<text transform="translate(165.10 264.91) scale(1 1.18)" class="t">3.75</text>
<line x1="161.50" y1="246.85" x2="163.50" y2="246.85" class="tk"/>
<text transform="translate(165.10 249.51) scale(1 1.18)" class="t">4.00</text>
<line x1="161.50" y1="231.45" x2="163.50" y2="231.45" class="tk"/>
<text transform="translate(165.10 234.11) scale(1 1.18)" class="t">4.25</text>
<line x1="161.50" y1="216.05" x2="163.50" y2="216.05" class="tk"/>
<text transform="translate(165.10 218.71) scale(1 1.18)" class="t">4.50</text>
<line x1="161.50" y1="200.65" x2="163.50" y2="200.65" class="tk"/>
<text transform="translate(165.10 203.31) scale(1 1.18)" class="t">4.75</text>
<line x1="161.50" y1="185.25" x2="163.50" y2="185.25" class="tk"/>
<text transform="translate(165.10 187.91) scale(1 1.18)" class="t">5.00</text>
<text x="85.50" y="334.30" text-anchor="middle" class="c">(d) Day 1 pixel standard</text>
<text x="85.50" y="344.80" text-anchor="middle" class="c">deviation values before meeting</text>
<rect x="204.20" y="185.25" width="15.78" height="16.40" fill="#ffe600"/>
<rect x="218.97" y="185.25" width="16.38" height="16.40" fill="#ffe600"/>
<rect x="234.35" y="185.25" width="16.38" height="16.40" fill="#ffe600"/>
<rect x="249.72" y="185.25" width="16.38" height="16.40" fill="#00d4ff"/>
<rect x="265.10" y="185.25" width="16.38" height="16.40" fill="#800000"/>
<rect x="280.48" y="185.25" width="16.38" height="16.40" fill="#ffe600"/>
<rect x="295.85" y="185.25" width="16.38" height="16.40" fill="#ffe600"/>
<rect x="311.23" y="185.25" width="15.38" height="16.40" fill="#ffe600"/>
<rect x="204.20" y="200.65" width="15.78" height="16.40" fill="#ffe600"/>
<rect x="218.97" y="200.65" width="16.38" height="16.40" fill="#ffe600"/>
<rect x="234.35" y="200.65" width="16.38" height="16.40" fill="#00d4ff"/>
<rect x="249.72" y="200.65" width="16.38" height="16.40" fill="#00d4ff"/>
<rect x="265.10" y="200.65" width="16.38" height="16.40" fill="#00d4ff"/>
<rect x="280.48" y="200.65" width="16.38" height="16.40" fill="#ffe600"/>
<rect x="295.85" y="200.65" width="16.38" height="16.40" fill="#ffe600"/>
<rect x="311.23" y="200.65" width="15.38" height="16.40" fill="#ffe600"/>
<rect x="204.20" y="216.05" width="15.78" height="16.40" fill="#ffe600"/>
<rect x="218.97" y="216.05" width="16.38" height="16.40" fill="#00d4ff"/>
<rect x="234.35" y="216.05" width="16.38" height="16.40" fill="#00d4ff"/>
<rect x="249.72" y="216.05" width="16.38" height="16.40" fill="#00d4ff"/>
<rect x="265.10" y="216.05" width="16.38" height="16.40" fill="#ffe600"/>
<rect x="280.48" y="216.05" width="16.38" height="16.40" fill="#ffe600"/>
<rect x="295.85" y="216.05" width="16.38" height="16.40" fill="#00d4ff"/>
<rect x="311.23" y="216.05" width="15.38" height="16.40" fill="#ffe600"/>
<rect x="204.20" y="231.45" width="15.78" height="16.40" fill="#ffe600"/>
<rect x="218.97" y="231.45" width="16.38" height="16.40" fill="#000080"/>
<rect x="234.35" y="231.45" width="16.38" height="16.40" fill="#ffe600"/>
<rect x="249.72" y="231.45" width="16.38" height="16.40" fill="#000080"/>
<rect x="265.10" y="231.45" width="16.38" height="16.40" fill="#00d4ff"/>
<rect x="280.48" y="231.45" width="16.38" height="16.40" fill="#ffe600"/>
<rect x="295.85" y="231.45" width="16.38" height="16.40" fill="#00d4ff"/>
<rect x="311.23" y="231.45" width="15.38" height="16.40" fill="#800000"/>
<rect x="204.20" y="246.85" width="15.78" height="16.40" fill="#00d4ff"/>
<rect x="218.97" y="246.85" width="16.38" height="16.40" fill="#00d4ff"/>
<rect x="234.35" y="246.85" width="16.38" height="16.40" fill="#00d4ff"/>
<rect x="249.72" y="246.85" width="16.38" height="16.40" fill="#00d4ff"/>
<rect x="265.10" y="246.85" width="16.38" height="16.40" fill="#00d4ff"/>
<rect x="280.48" y="246.85" width="16.38" height="16.40" fill="#800000"/>
<rect x="295.85" y="246.85" width="16.38" height="16.40" fill="#00d4ff"/>
<rect x="311.23" y="246.85" width="15.38" height="16.40" fill="#ffe600"/>
<rect x="204.20" y="262.25" width="15.78" height="16.40" fill="#ffe600"/>
<rect x="218.97" y="262.25" width="16.38" height="16.40" fill="#00d4ff"/>
<rect x="234.35" y="262.25" width="16.38" height="16.40" fill="#00d4ff"/>
<rect x="249.72" y="262.25" width="16.38" height="16.40" fill="#00d4ff"/>
<rect x="265.10" y="262.25" width="16.38" height="16.40" fill="#00d4ff"/>
<rect x="280.48" y="262.25" width="16.38" height="16.40" fill="#ffe600"/>
<rect x="295.85" y="262.25" width="16.38" height="16.40" fill="#00d4ff"/>
<rect x="311.23" y="262.25" width="15.38" height="16.40" fill="#ffe600"/>
<rect x="204.20" y="277.65" width="15.78" height="16.40" fill="#ffe600"/>
<rect x="218.97" y="277.65" width="16.38" height="16.40" fill="#00d4ff"/>
<rect x="234.35" y="277.65" width="16.38" height="16.40" fill="#000080"/>
<rect x="249.72" y="277.65" width="16.38" height="16.40" fill="#00d4ff"/>
<rect x="265.10" y="277.65" width="16.38" height="16.40" fill="#ffe600"/>
<rect x="280.48" y="277.65" width="16.38" height="16.40" fill="#ffe600"/>
<rect x="295.85" y="277.65" width="16.38" height="16.40" fill="#800000"/>
<rect x="311.23" y="277.65" width="15.38" height="16.40" fill="#800000"/>
<rect x="204.20" y="293.05" width="15.78" height="15.40" fill="#ffe600"/>
<rect x="218.97" y="293.05" width="16.38" height="15.40" fill="#00d4ff"/>
<rect x="234.35" y="293.05" width="16.38" height="15.40" fill="#ffe600"/>
<rect x="249.72" y="293.05" width="16.38" height="15.40" fill="#00d4ff"/>
<rect x="265.10" y="293.05" width="16.38" height="15.40" fill="#00d4ff"/>
<rect x="280.48" y="293.05" width="16.38" height="15.40" fill="#800000"/>
<rect x="295.85" y="293.05" width="16.38" height="15.40" fill="#ffe600"/>
<rect x="311.23" y="293.05" width="15.38" height="15.40" fill="#800000"/>
<rect x="204.20" y="185.25" width="122.40" height="123.20" class="bd"/>
<line x1="202.20" y1="193.45" x2="204.20" y2="193.45" class="tk"/>
<text transform="translate(200.00 196.11) scale(1 1.18)" text-anchor="end" class="t">0</text>
<line x1="202.20" y1="208.85" x2="204.20" y2="208.85" class="tk"/>
<text transform="translate(200.00 211.51) scale(1 1.18)" text-anchor="end" class="t">1</text>
<line x1="202.20" y1="224.25" x2="204.20" y2="224.25" class="tk"/>
<text transform="translate(200.00 226.91) scale(1 1.18)" text-anchor="end" class="t">2</text>
<line x1="202.20" y1="239.65" x2="204.20" y2="239.65" class="tk"/>
<text transform="translate(200.00 242.31) scale(1 1.18)" text-anchor="end" class="t">3</text>
<line x1="202.20" y1="255.05" x2="204.20" y2="255.05" class="tk"/>
<text transform="translate(200.00 257.71) scale(1 1.18)" text-anchor="end" class="t">4</text>
<line x1="202.20" y1="270.45" x2="204.20" y2="270.45" class="tk"/>
<text transform="translate(200.00 273.11) scale(1 1.18)" text-anchor="end" class="t">5</text>
<line x1="202.20" y1="285.85" x2="204.20" y2="285.85" class="tk"/>
<text transform="translate(200.00 288.51) scale(1 1.18)" text-anchor="end" class="t">6</text>
<line x1="202.20" y1="301.25" x2="204.20" y2="301.25" class="tk"/>
<text transform="translate(200.00 303.91) scale(1 1.18)" text-anchor="end" class="t">7</text>
<line x1="211.29" y1="308.45" x2="211.29" y2="310.45" class="tk"/>
<text transform="translate(211.29 317.75) scale(1 1.18)" text-anchor="middle" class="t">0</text>
<line x1="242.04" y1="308.45" x2="242.04" y2="310.45" class="tk"/>
<text transform="translate(242.04 317.75) scale(1 1.18)" text-anchor="middle" class="t">2</text>
<line x1="272.79" y1="308.45" x2="272.79" y2="310.45" class="tk"/>
<text transform="translate(272.79 317.75) scale(1 1.18)" text-anchor="middle" class="t">4</text>
<line x1="303.54" y1="308.45" x2="303.54" y2="310.45" class="tk"/>
<text transform="translate(303.54 317.75) scale(1 1.18)" text-anchor="middle" class="t">6</text>
<rect x="335.90" y="185.25" width="6.30" height="123.20" fill="url(#jet)"/>
<rect x="335.90" y="185.25" width="6.30" height="123.20" class="bd"/>
<line x1="342.20" y1="308.45" x2="344.20" y2="308.45" class="tk"/>
<text transform="translate(345.80 311.11) scale(1 1.18)" class="t">2.0</text>
<line x1="342.20" y1="287.92" x2="344.20" y2="287.92" class="tk"/>
<text transform="translate(345.80 290.58) scale(1 1.18)" class="t">2.5</text>
<line x1="342.20" y1="267.38" x2="344.20" y2="267.38" class="tk"/>
<text transform="translate(345.80 270.04) scale(1 1.18)" class="t">3.0</text>
<line x1="342.20" y1="246.85" x2="344.20" y2="246.85" class="tk"/>
<text transform="translate(345.80 249.51) scale(1 1.18)" class="t">3.5</text>
<line x1="342.20" y1="226.32" x2="344.20" y2="226.32" class="tk"/>
<text transform="translate(345.80 228.98) scale(1 1.18)" class="t">4.0</text>
<line x1="342.20" y1="205.78" x2="344.20" y2="205.78" class="tk"/>
<text transform="translate(345.80 208.44) scale(1 1.18)" class="t">4.5</text>
<line x1="342.20" y1="185.25" x2="344.20" y2="185.25" class="tk"/>
<text transform="translate(345.80 187.91) scale(1 1.18)" class="t">5.0</text>
<text x="270.40" y="334.30" text-anchor="middle" class="c">(e) Day 1 pixel standard</text>
<text x="270.40" y="344.80" text-anchor="middle" class="c">deviation values after meeting</text>
<rect x="381.00" y="185.25" width="15.77" height="16.40" fill="#7bff7b"/>
<rect x="395.77" y="185.25" width="16.38" height="16.40" fill="#000080"/>
<rect x="411.15" y="185.25" width="16.38" height="16.40" fill="#7bff7b"/>
<rect x="426.52" y="185.25" width="16.38" height="16.40" fill="#000080"/>
<rect x="441.90" y="185.25" width="16.38" height="16.40" fill="#7bff7b"/>
<rect x="457.27" y="185.25" width="16.38" height="16.40" fill="#7bff7b"/>
<rect x="472.65" y="185.25" width="16.38" height="16.40" fill="#7bff7b"/>
<rect x="488.02" y="185.25" width="15.38" height="16.40" fill="#7bff7b"/>
<rect x="381.00" y="200.65" width="15.77" height="16.40" fill="#000080"/>
<rect x="395.77" y="200.65" width="16.38" height="16.40" fill="#7bff7b"/>
<rect x="411.15" y="200.65" width="16.38" height="16.40" fill="#000080"/>
<rect x="426.52" y="200.65" width="16.38" height="16.40" fill="#000080"/>
<rect x="441.90" y="200.65" width="16.38" height="16.40" fill="#7bff7b"/>
<rect x="457.27" y="200.65" width="16.38" height="16.40" fill="#7bff7b"/>
<rect x="472.65" y="200.65" width="16.38" height="16.40" fill="#7bff7b"/>
<rect x="488.02" y="200.65" width="15.38" height="16.40" fill="#7bff7b"/>
<rect x="381.00" y="216.05" width="15.77" height="16.40" fill="#000080"/>
<rect x="395.77" y="216.05" width="16.38" height="16.40" fill="#000080"/>
<rect x="411.15" y="216.05" width="16.38" height="16.40" fill="#000080"/>
<rect x="426.52" y="216.05" width="16.38" height="16.40" fill="#000080"/>
<rect x="441.90" y="216.05" width="16.38" height="16.40" fill="#000080"/>
<rect x="457.27" y="216.05" width="16.38" height="16.40" fill="#7bff7b"/>
<rect x="472.65" y="216.05" width="16.38" height="16.40" fill="#000080"/>
<rect x="488.02" y="216.05" width="15.38" height="16.40" fill="#7bff7b"/>
<rect x="381.00" y="231.45" width="15.77" height="16.40" fill="#000080"/>
<rect x="395.77" y="231.45" width="16.38" height="16.40" fill="#000080"/>
<rect x="411.15" y="231.45" width="16.38" height="16.40" fill="#000080"/>
<rect x="426.52" y="231.45" width="16.38" height="16.40" fill="#000080"/>
<rect x="441.90" y="231.45" width="16.38" height="16.40" fill="#000080"/>
<rect x="457.27" y="231.45" width="16.38" height="16.40" fill="#000080"/>
<rect x="472.65" y="231.45" width="16.38" height="16.40" fill="#000080"/>
<rect x="488.02" y="231.45" width="15.38" height="16.40" fill="#7bff7b"/>
<rect x="381.00" y="246.85" width="15.77" height="16.40" fill="#7bff7b"/>
<rect x="395.77" y="246.85" width="16.38" height="16.40" fill="#7bff7b"/>
<rect x="411.15" y="246.85" width="16.38" height="16.40" fill="#000080"/>
<rect x="426.52" y="246.85" width="16.38" height="16.40" fill="#000080"/>
<rect x="441.90" y="246.85" width="16.38" height="16.40" fill="#000080"/>
<rect x="457.27" y="246.85" width="16.38" height="16.40" fill="#000080"/>
<rect x="472.65" y="246.85" width="16.38" height="16.40" fill="#7bff7b"/>
<rect x="488.02" y="246.85" width="15.38" height="16.40" fill="#7bff7b"/>
<rect x="381.00" y="262.25" width="15.77" height="16.40" fill="#7bff7b"/>
<rect x="395.77" y="262.25" width="16.38" height="16.40" fill="#7bff7b"/>
<rect x="411.15" y="262.25" width="16.38" height="16.40" fill="#000080"/>
<rect x="426.52" y="262.25" width="16.38" height="16.40" fill="#000080"/>
<rect x="441.90" y="262.25" width="16.38" height="16.40" fill="#7bff7b"/>
<rect x="457.27" y="262.25" width="16.38" height="16.40" fill="#000080"/>
<rect x="472.65" y="262.25" width="16.38" height="16.40" fill="#7bff7b"/>
<rect x="488.02" y="262.25" width="15.38" height="16.40" fill="#7bff7b"/>
<rect x="381.00" y="277.65" width="15.77" height="16.40" fill="#7bff7b"/>
<rect x="395.77" y="277.65" width="16.38" height="16.40" fill="#000080"/>
<rect x="411.15" y="277.65" width="16.38" height="16.40" fill="#000080"/>
<rect x="426.52" y="277.65" width="16.38" height="16.40" fill="#000080"/>
<rect x="441.90" y="277.65" width="16.38" height="16.40" fill="#000080"/>
<rect x="457.27" y="277.65" width="16.38" height="16.40" fill="#000080"/>
<rect x="472.65" y="277.65" width="16.38" height="16.40" fill="#7bff7b"/>
<rect x="488.02" y="277.65" width="15.38" height="16.40" fill="#7bff7b"/>
<rect x="381.00" y="293.05" width="15.77" height="15.40" fill="#800000"/>
<rect x="395.77" y="293.05" width="16.38" height="15.40" fill="#7bff7b"/>
<rect x="411.15" y="293.05" width="16.38" height="15.40" fill="#7bff7b"/>
<rect x="426.52" y="293.05" width="16.38" height="15.40" fill="#7bff7b"/>
<rect x="441.90" y="293.05" width="16.38" height="15.40" fill="#000080"/>
<rect x="457.27" y="293.05" width="16.38" height="15.40" fill="#7bff7b"/>
<rect x="472.65" y="293.05" width="16.38" height="15.40" fill="#7bff7b"/>
<rect x="488.02" y="293.05" width="15.38" height="15.40" fill="#7bff7b"/>
<rect x="381.00" y="185.25" width="122.40" height="123.20" class="bd"/>
<line x1="379.00" y1="193.45" x2="381.00" y2="193.45" class="tk"/>
<text transform="translate(376.80 196.11) scale(1 1.18)" text-anchor="end" class="t">0</text>
<line x1="379.00" y1="208.85" x2="381.00" y2="208.85" class="tk"/>
<text transform="translate(376.80 211.51) scale(1 1.18)" text-anchor="end" class="t">1</text>
<line x1="379.00" y1="224.25" x2="381.00" y2="224.25" class="tk"/>
<text transform="translate(376.80 226.91) scale(1 1.18)" text-anchor="end" class="t">2</text>
<line x1="379.00" y1="239.65" x2="381.00" y2="239.65" class="tk"/>
<text transform="translate(376.80 242.31) scale(1 1.18)" text-anchor="end" class="t">3</text>
<line x1="379.00" y1="255.05" x2="381.00" y2="255.05" class="tk"/>
<text transform="translate(376.80 257.71) scale(1 1.18)" text-anchor="end" class="t">4</text>
<line x1="379.00" y1="270.45" x2="381.00" y2="270.45" class="tk"/>
<text transform="translate(376.80 273.11) scale(1 1.18)" text-anchor="end" class="t">5</text>
<line x1="379.00" y1="285.85" x2="381.00" y2="285.85" class="tk"/>
<text transform="translate(376.80 288.51) scale(1 1.18)" text-anchor="end" class="t">6</text>
<line x1="379.00" y1="301.25" x2="381.00" y2="301.25" class="tk"/>
<text transform="translate(376.80 303.91) scale(1 1.18)" text-anchor="end" class="t">7</text>
<line x1="388.09" y1="308.45" x2="388.09" y2="310.45" class="tk"/>
<text transform="translate(388.09 317.75) scale(1 1.18)" text-anchor="middle" class="t">0</text>
<line x1="418.84" y1="308.45" x2="418.84" y2="310.45" class="tk"/>
<text transform="translate(418.84 317.75) scale(1 1.18)" text-anchor="middle" class="t">2</text>
<line x1="449.59" y1="308.45" x2="449.59" y2="310.45" class="tk"/>
<text transform="translate(449.59 317.75) scale(1 1.18)" text-anchor="middle" class="t">4</text>
<line x1="480.34" y1="308.45" x2="480.34" y2="310.45" class="tk"/>
<text transform="translate(480.34 317.75) scale(1 1.18)" text-anchor="middle" class="t">6</text>
<rect x="512.70" y="185.25" width="6.30" height="123.20" fill="url(#jet)"/>
<rect x="512.70" y="185.25" width="6.30" height="123.20" class="bd"/>
<line x1="519.00" y1="308.45" x2="521.00" y2="308.45" class="tk"/>
<text transform="translate(522.60 311.11) scale(1 1.18)" class="t">3.00</text>
<line x1="519.00" y1="293.05" x2="521.00" y2="293.05" class="tk"/>
<text transform="translate(522.60 295.71) scale(1 1.18)" class="t">3.25</text>
<line x1="519.00" y1="277.65" x2="521.00" y2="277.65" class="tk"/>
<text transform="translate(522.60 280.31) scale(1 1.18)" class="t">3.50</text>
<line x1="519.00" y1="262.25" x2="521.00" y2="262.25" class="tk"/>
<text transform="translate(522.60 264.91) scale(1 1.18)" class="t">3.75</text>
<line x1="519.00" y1="246.85" x2="521.00" y2="246.85" class="tk"/>
<text transform="translate(522.60 249.51) scale(1 1.18)" class="t">4.00</text>
<line x1="519.00" y1="231.45" x2="521.00" y2="231.45" class="tk"/>
<text transform="translate(522.60 234.11) scale(1 1.18)" class="t">4.25</text>
<line x1="519.00" y1="216.05" x2="521.00" y2="216.05" class="tk"/>
<text transform="translate(522.60 218.71) scale(1 1.18)" class="t">4.50</text>
<line x1="519.00" y1="200.65" x2="521.00" y2="200.65" class="tk"/>
<text transform="translate(522.60 203.31) scale(1 1.18)" class="t">4.75</text>
<line x1="519.00" y1="185.25" x2="521.00" y2="185.25" class="tk"/>
<text transform="translate(522.60 187.91) scale(1 1.18)" class="t">5.00</text>
<text x="446.60" y="334.30" text-anchor="middle" class="c">(f) Day 2 pixel standard deviation</text>
<text x="446.60" y="344.80" text-anchor="middle" class="c">values before meeting</text>
</svg>
</body></html>
